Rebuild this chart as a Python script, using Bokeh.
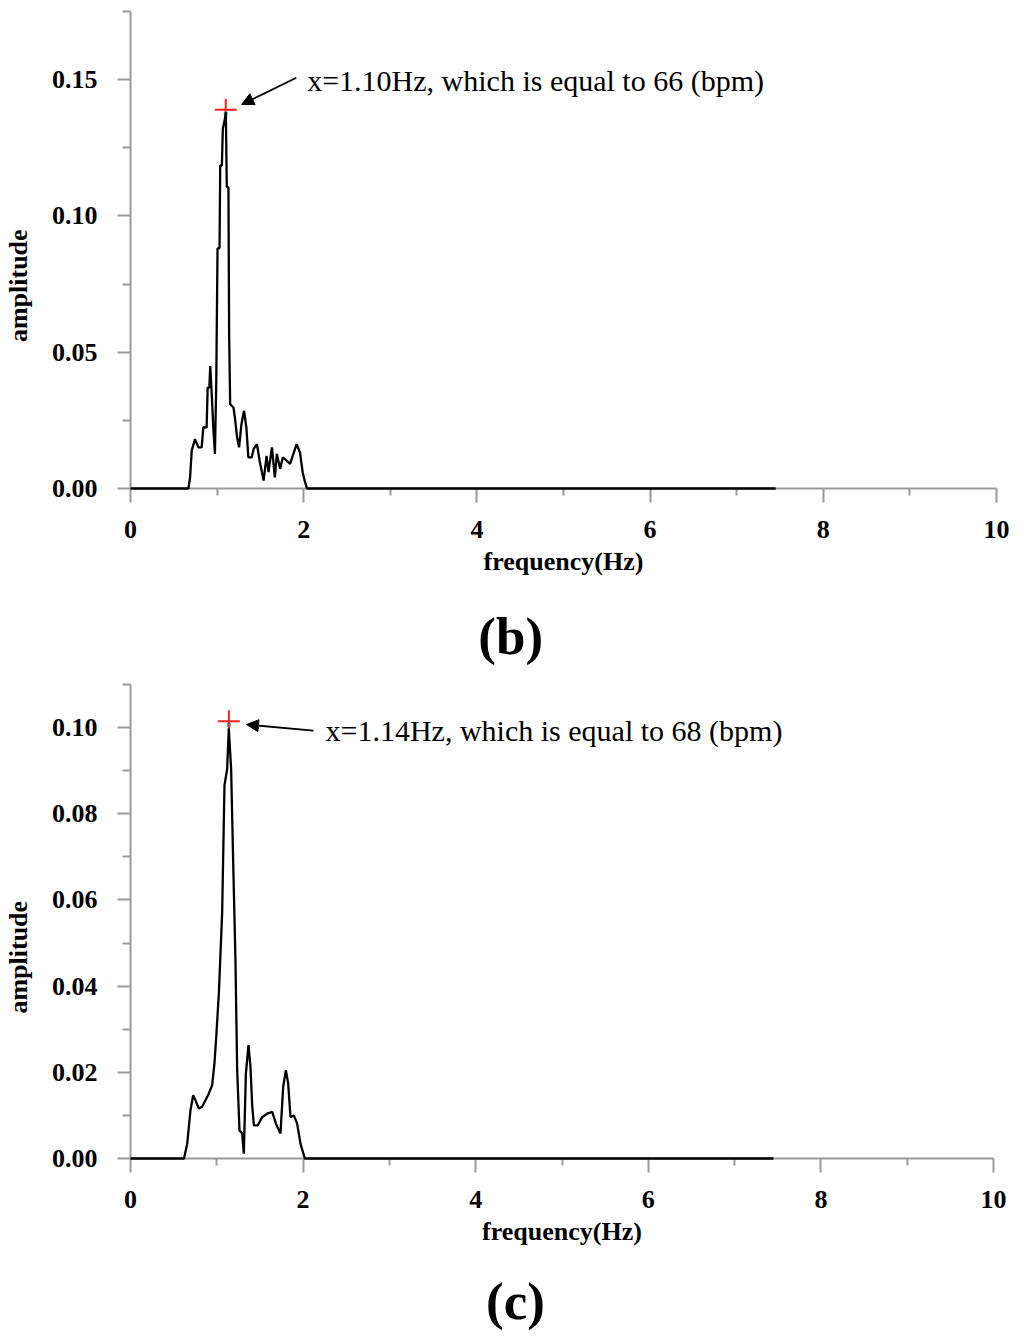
from bokeh.plotting import figure
from bokeh.layouts import column
from bokeh.models import Range1d, FixedTicker, PrintfTickFormatter, Arrow, NormalHead, Label, ColumnDataSource
from bokeh.core.properties import value
from bokeh.embed import file_html
from bokeh.resources import INLINE

# ---- data: panel (b)
freq_b = [0.0, 0.669, 0.688, 0.707, 0.745, 0.784, 0.822, 0.841, 0.879, 0.891, 0.910, 0.921,
          0.940, 0.956, 0.975, 0.990, 1.005, 1.028, 1.036, 1.055, 1.066, 1.089, 1.101, 1.112,
          1.131, 1.139, 1.151, 1.189, 1.208, 1.231, 1.254, 1.281, 1.311, 1.338, 1.361, 1.399,
          1.422, 1.460, 1.491, 1.537, 1.571, 1.594, 1.633, 1.667, 1.690, 1.728, 1.758, 1.804,
          1.843, 1.881, 1.919, 1.957, 1.988, 2.011, 2.038, 7.45]
amp_b = [0, 0, 0.0041, 0.0139, 0.0181, 0.0151, 0.0151, 0.0224, 0.0224, 0.037, 0.037, 0.0449,
         0.0333, 0.0224, 0.0127, 0.0382, 0.0881, 0.0881, 0.1185, 0.1185, 0.1319, 0.1355, 0.138, 0.1106,
         0.1106, 0.0565, 0.0309, 0.0297, 0.0254, 0.0187, 0.0151, 0.0236, 0.0285, 0.0224, 0.0114, 0.0114,
         0.0145, 0.0163, 0.0102, 0.0029, 0.012, 0.006, 0.0151, 0.0041, 0.0127, 0.0072, 0.0114, 0.0102,
         0.009, 0.0127, 0.0163, 0.0132, 0.006, 0.0029, 0, 0]
peak_b = (1.10, 0.139)
note_b = "x=1.10Hz, which is equal to 66 (bpm)"
yticks_b = [0.0, 0.05, 0.10, 0.15]
yminor_b = [0.025, 0.075, 0.125, 0.175]

# ---- data: panel (c)
freq_c = [0.0, 0.62, 0.657, 0.695, 0.726, 0.753, 0.792, 0.830, 0.869, 0.908, 0.946, 0.973,
          0.996, 1.024, 1.062, 1.089, 1.120, 1.139, 1.166, 1.189, 1.216, 1.236, 1.263, 1.294,
          1.313, 1.337, 1.367, 1.390, 1.410, 1.429, 1.475, 1.526, 1.584, 1.642, 1.692, 1.738,
          1.769, 1.800, 1.827, 1.854, 1.893, 1.931, 1.970, 2.020, 7.45]
amp_c = [0, 0, 0.0034, 0.0112, 0.0147, 0.0135, 0.0116, 0.012, 0.0135, 0.0151, 0.017, 0.0221,
         0.029, 0.0384, 0.057, 0.0866, 0.0904, 0.0998, 0.0904, 0.0695, 0.0462, 0.0205, 0.0065, 0.0058,
         0.0011, 0.0197, 0.0263, 0.0213, 0.0124, 0.0077, 0.0077, 0.0096, 0.0104, 0.0108, 0.0077, 0.0058,
         0.0166, 0.0205, 0.0174, 0.0096, 0.01, 0.0081, 0.0034, 0, 0]
peak_c = (1.14, 0.1015)
note_c = "x=1.14Hz, which is equal to 68 (bpm)"
yticks_c = [0.0, 0.02, 0.04, 0.06, 0.08, 0.10]
yminor_c = [0.01, 0.03, 0.05, 0.07, 0.09, 0.11]

xticks = [0, 2, 4, 6, 8, 10]
xminor = [1, 3, 5, 7, 9]

SERIF = "Liberation Serif"
AX = "#9a9a9a"
YLABEL = "amplitude" + "\u00a0" * 11   # padding shifts the centred label down, as in the original


def panel(freq, amp, ymax, yticks, yminor, peak, note, arrow_tail, arrow_head, note_pos,
          width, height, b_top, b_bottom, b_right):
    p = figure(width=width, height=height, output_backend="svg", toolbar_location=None,
               x_range=Range1d(0, 10), y_range=Range1d(0, ymax),
               min_border_left=130, min_border_top=b_top, min_border_right=b_right,
               min_border_bottom=b_bottom,
               x_axis_label="frequency(Hz)", y_axis_label=YLABEL)
    p.outline_line_color = None
    p.xgrid.visible = False
    p.ygrid.visible = False
    p.background_fill_color = "white"

    for ax in (p.xaxis[0], p.yaxis[0]):
        ax.axis_line_color = AX
        ax.axis_line_width = 2
        ax.major_tick_line_color = AX
        ax.minor_tick_line_color = AX
        ax.major_tick_line_width = 2
        ax.minor_tick_line_width = 2
        ax.major_tick_in = 0
        ax.minor_tick_in = 0
        ax.major_label_text_font = SERIF
        ax.major_label_text_font_style = "bold"
        ax.major_label_text_font_size = "26px"
        ax.major_label_text_color = "black"
        ax.axis_label_text_font = SERIF
        ax.axis_label_text_font_style = "bold"
        ax.axis_label_text_font_size = "26px"
        ax.axis_label_text_color = "black"

    p.xaxis.ticker = FixedTicker(ticks=xticks, minor_ticks=xminor)
    p.xaxis.major_tick_out = 14
    p.xaxis.minor_tick_out = 7
    p.xaxis.major_label_standoff = 18
    p.xaxis.axis_label_standoff = 6

    p.yaxis.ticker = FixedTicker(ticks=yticks, minor_ticks=yminor)
    p.yaxis.formatter = PrintfTickFormatter(format="%.2f")
    p.yaxis.major_tick_out = 13
    p.yaxis.minor_tick_out = 8
    p.yaxis.major_label_standoff = 20
    p.yaxis.axis_label_standoff = 16

    src = ColumnDataSource(data=dict(f=freq, a=amp))
    r = p.line("f", "a", source=src, line_color="black", line_width=2.3)
    r.level = "overlay"

    p.scatter([peak[0]], [peak[1] - ymax * 0.008], marker="square", size=4,
              fill_color="#00e0f0", line_color=None)
    p.scatter([peak[0]], [peak[1]], marker="cross", size=22, line_color="#ff2020", line_width=2)

    p.add_layout(Arrow(end=NormalHead(size=12, fill_color="black", line_color="black"),
                       x_start=arrow_tail[0], y_start=arrow_tail[1],
                       x_end=arrow_head[0], y_end=arrow_head[1],
                       line_color="black", line_width=1.8))
    p.add_layout(Label(x=note_pos[0], y=note_pos[1], text=note, text_font=SERIF,
                       text_font_size="30px", text_baseline="middle", text_color="black"))
    return p


def tag_fig(tag, width, height, b_right, fx, cy):
    # same horizontal frame as the panel above, so the tag sits at frequency fx
    t = figure(width=width, height=height, output_backend="svg", toolbar_location=None,
               x_range=Range1d(0, 10), y_range=Range1d(0, height),
               min_border_left=130, min_border_right=b_right, min_border_top=0,
               min_border_bottom=0, x_axis_type=None, y_axis_type=None)
    t.outline_line_color = None
    t.xgrid.visible = False
    t.ygrid.visible = False
    t.text(x=[fx], y=[cy], text=[tag], text_font=value(SERIF), text_font_size="53px",
           text_font_style="bold", text_align="center", text_baseline="middle",
           text_color="black")
    return t


p1 = panel(freq_b, amp_b, 0.175, yticks_b, yminor_b, peak_b, note_b,
           (1.915, 0.1507), (1.284, 0.1409), (2.04, 0.1496),
           1016, 588, 11, 100, 14)
t1 = tag_fig("(b)", 1016, 84, 14, 4.39, 37)
p2 = panel(freq_c, amp_c, 0.11, yticks_c, yminor_c, peak_c, note_c,
           (2.12, 0.0993), (1.344, 0.1007), (2.26, 0.0993),
           1013, 586, 12, 100, 20)
t2 = tag_fig("(c)", 1013, 85, 20, 4.46, 43)

layout = column(p1, t1, p2, t2, spacing=0)
open("out.html", "w").write(file_html(layout, INLINE))
